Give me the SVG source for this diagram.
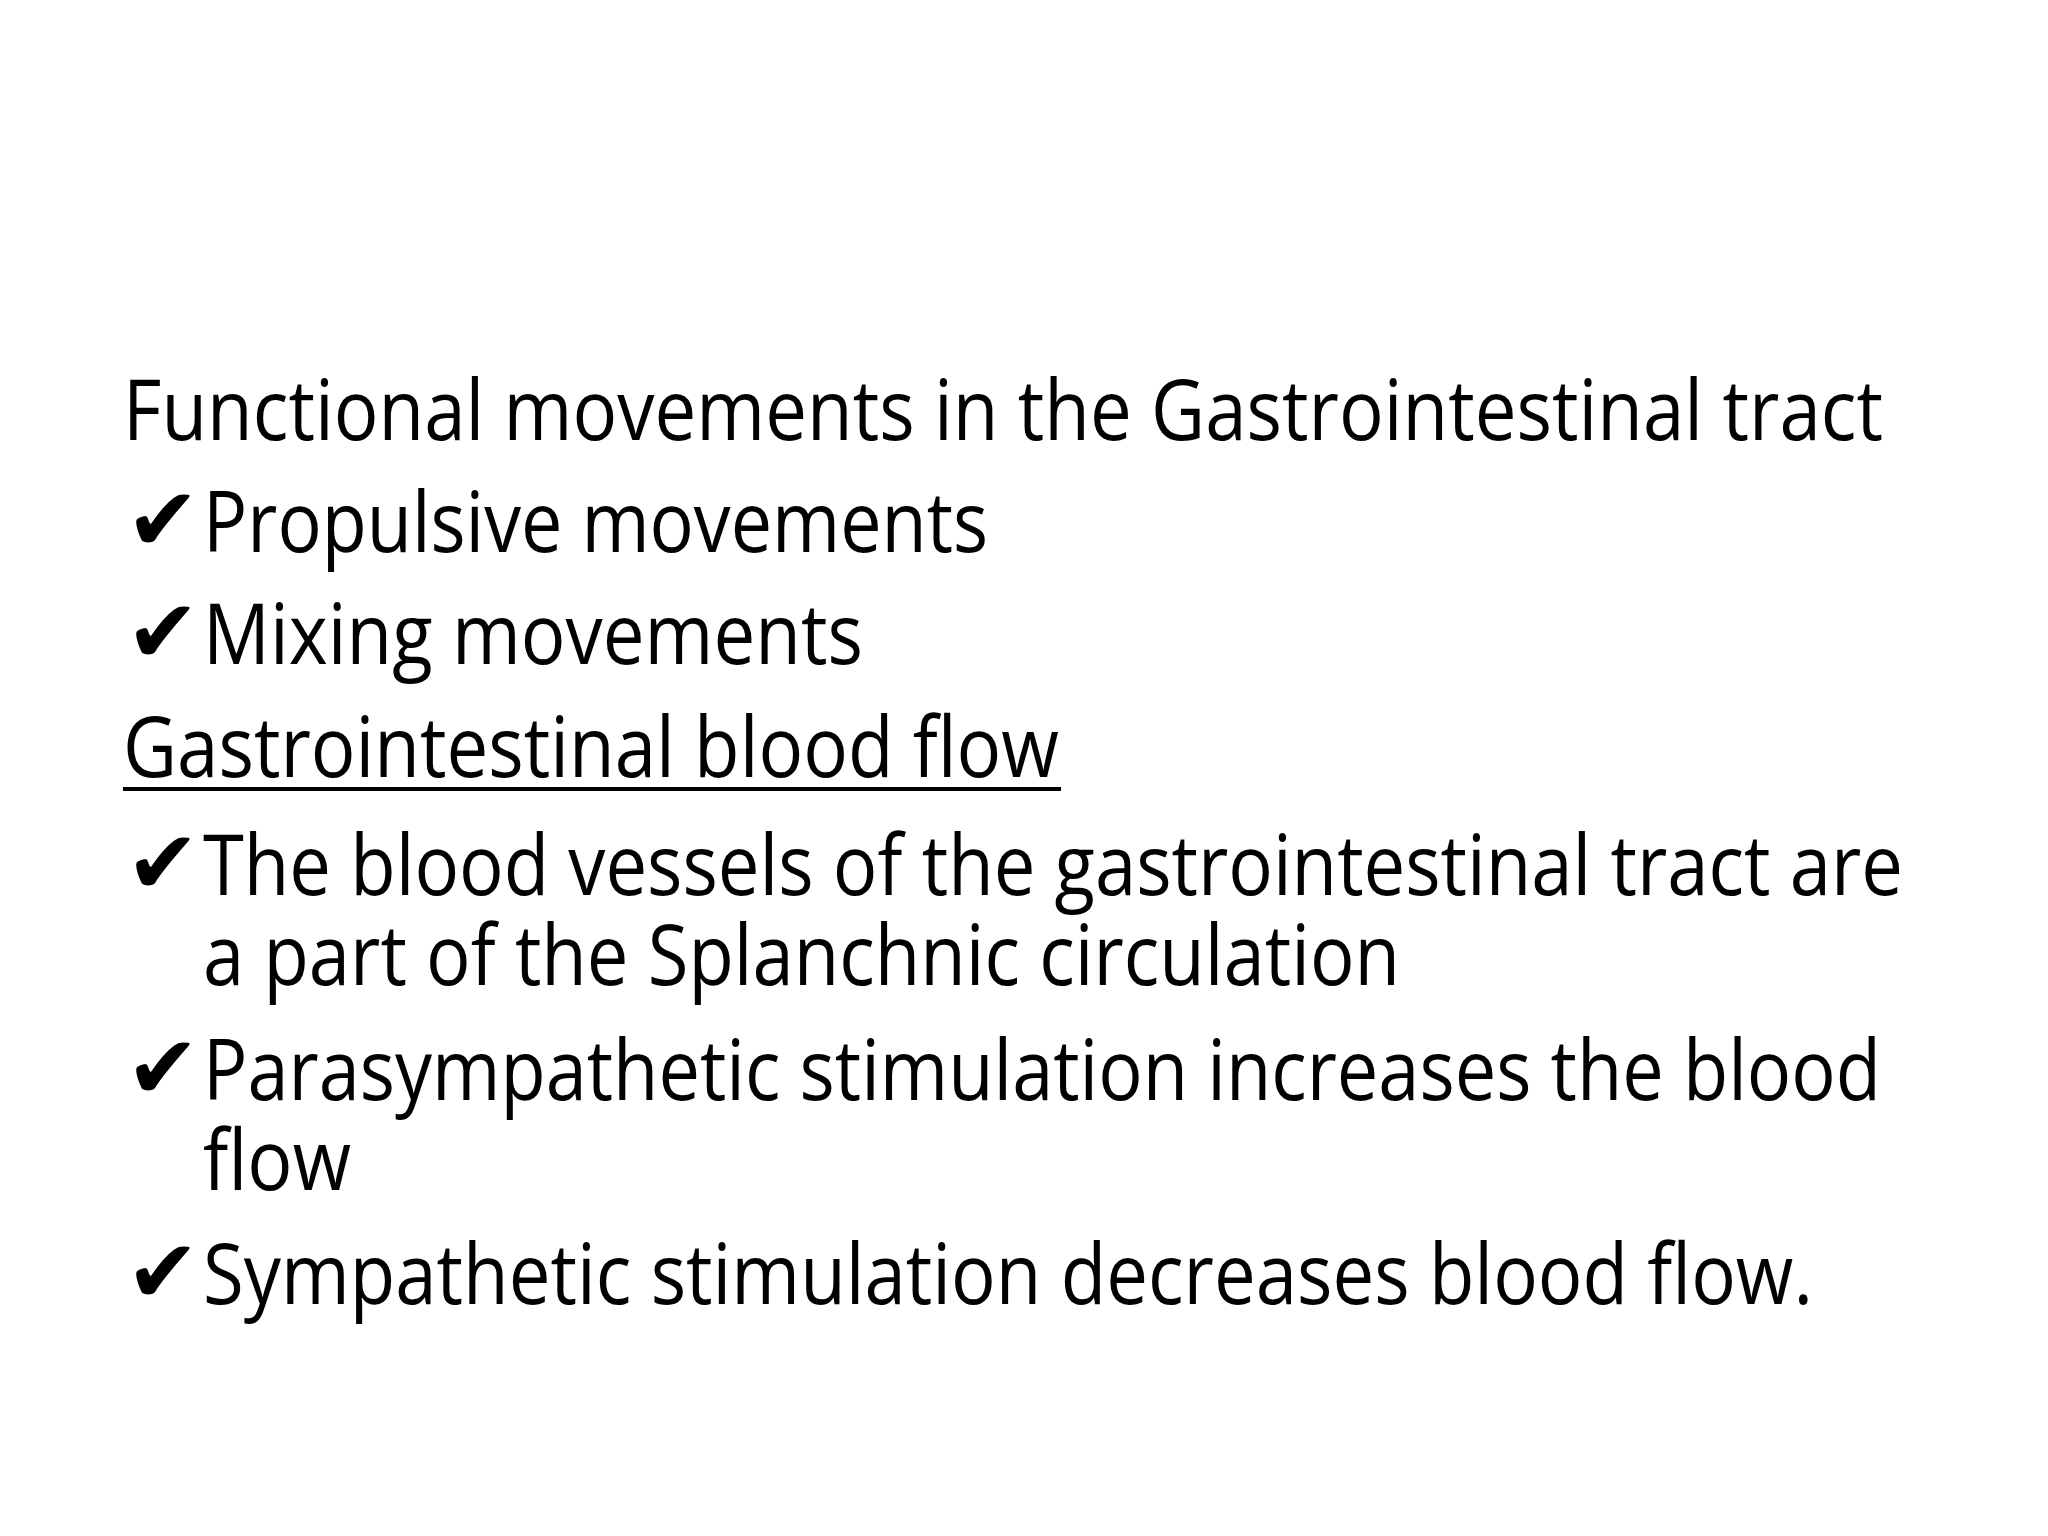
<svg xmlns="http://www.w3.org/2000/svg" width="2048" height="1536" viewBox="0 0 2048 1536">
<style>
.t{font-family:"Open Sans","Liberation Sans",sans-serif;font-size:84px;fill:#000}
.c{font-family:"DejaVu Sans",sans-serif;font-size:88px;fill:#000}
</style>
<rect width="2048" height="1536" fill="#fff"/>
<g id="title1"><text class="t" x="123" y="440" textLength="1760" lengthAdjust="spacingAndGlyphs">Functional movements in the Gastrointestinal tract</text></g>
<g id="b1"><text class="c" x="126" y="550">✔</text><text class="t" x="203" y="552" textLength="785" lengthAdjust="spacingAndGlyphs">Propulsive movements</text></g>
<g id="b2"><text class="c" x="126" y="662">✔</text><text class="t" x="203" y="664" textLength="660" lengthAdjust="spacingAndGlyphs">Mixing movements</text></g>
<g id="title2"><text class="t" x="123" y="777" textLength="936" lengthAdjust="spacingAndGlyphs">Gastrointestinal blood flow</text><rect x="123" y="787" width="938" height="4" fill="#000"/></g>
<g id="b3"><text class="c" x="126" y="893">✔</text><text class="t" x="203" y="895" textLength="1700" lengthAdjust="spacingAndGlyphs">The blood vessels of the gastrointestinal tract are</text><text class="t" x="203" y="985" textLength="1197" lengthAdjust="spacingAndGlyphs">a part of the Splanchnic circulation</text></g>
<g id="b4"><text class="c" x="126" y="1098">✔</text><text class="t" x="203" y="1100" textLength="1678" lengthAdjust="spacingAndGlyphs">Parasympathetic stimulation increases the blood</text><text class="t" x="203" y="1190" textLength="148" lengthAdjust="spacingAndGlyphs">flow</text></g>
<g id="b5"><text class="c" x="126" y="1302">✔</text><text class="t" x="203" y="1304" textLength="1610" lengthAdjust="spacingAndGlyphs">Sympathetic stimulation decreases blood flow.</text></g>
</svg>
